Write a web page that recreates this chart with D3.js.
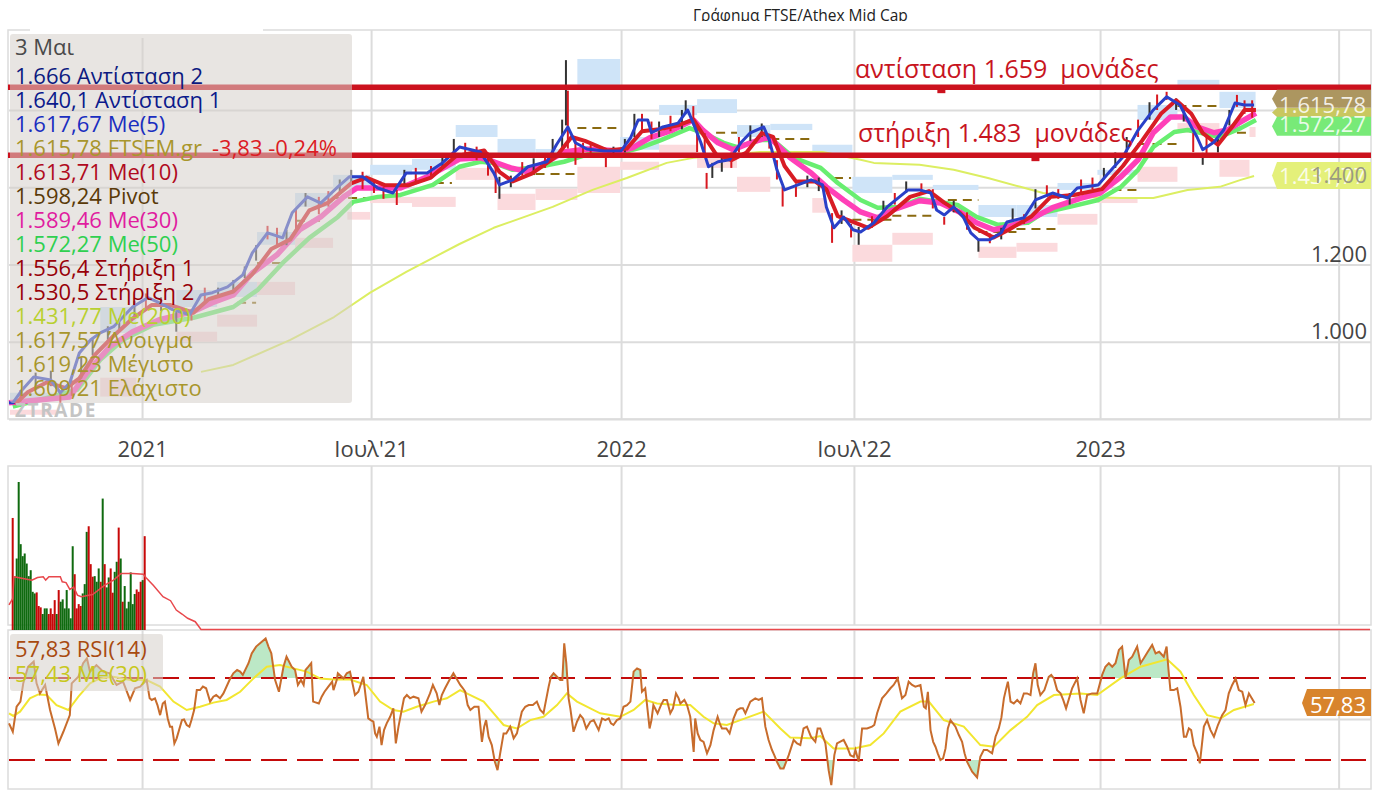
<!DOCTYPE html>
<head>
  <meta charset="utf-8">
  <script src="https://d3js.org/d3.v7.min.js"></script>
  <style>
    html, body { margin: 0; background: #fff; }
    svg { display: block; }
    text { font-family: "Open Sans", sans-serif; }
    .domain { display: none; }
    .grid line { stroke: #dcdcdc; stroke-width: 2; }
  </style>
</head>

<body>
  <svg width="1386" height="803"></svg>

  <script>
    // sessions are counted from the first trading day on the chart
    const monthTicks = [70, 190.5, 322, 444.5, 574, 699.5];
    const monthLabels = ['2021', "Ιουλ'21", '2022', "Ιουλ'22", '2023', ''];
    const priceLabels = [1000, 1200, 1400];
    const priceGrid = [800, 1000, 1200, 1400, 1600];

    const me5 = [[0,842],[2,842],[7,876],[13,909],[22,901],[27,868],[32,894],[37,971],[43,1005],[48,1023],[55,1039],[65,1090],[73,1114],[79,1101],[86,1083],[95,1070],[101,1121],[107,1127],[115,1142],[123,1173],[128,1230],[136,1282],[144,1269],[149,1334],[157,1375],[164,1359],[173,1401],[179,1427],[186,1427],[194,1398],[202,1385],[209,1437],[220,1437],[228,1463],[237,1504],[248,1491],[255,1437],[258,1406],[265,1419],[273,1453],[283,1466],[288,1510],[294,1556],[298,1515],[304,1499],[313,1494],[322,1494],[327,1528],[331,1574],[336,1574],[338,1541],[344,1556],[352,1566],[357,1600],[360,1566],[364,1515],[368,1453],[373,1466],[379,1471],[385,1515],[390,1541],[397,1556],[400,1522],[404,1445],[408,1393],[415,1406],[422,1419],[428,1406],[430,1349],[434,1295],[439,1323],[444,1290],[448,1284],[455,1308],[462,1349],[473,1393],[479,1393],[485,1385],[488,1341],[492,1328],[497,1349],[502,1323],[506,1282],[510,1264],[516,1264],[522,1282],[525,1310],[534,1321],[540,1367],[549,1385],[557,1372],[562,1398],[573,1406],[579,1440],[586,1478],[594,1548],[602,1600],[609,1634],[616,1613],[622,1556],[625,1530],[628,1497],[634,1517],[639,1548],[645,1618],[650,1613],[655,1613]];
    const me10 = [[3,838],[10,870],[20,895],[30,880],[37,905],[45,965],[55,1015],[65,1060],[75,1095],[85,1095],[97,1075],[105,1110],[118,1130],[128,1175],[138,1240],[148,1265],[158,1340],[168,1360],[180,1410],[188,1425],[198,1405],[210,1405],[222,1425],[235,1480],[250,1495],[258,1440],[265,1415],[275,1435],[288,1480],[296,1530],[303,1520],[315,1495],[325,1500],[333,1545],[342,1550],[352,1560],[360,1575],[366,1530],[372,1485],[380,1470],[388,1490],[396,1540],[402,1530],[408,1455],[414,1415],[424,1415],[430,1395],[436,1325],[444,1310],[452,1295],[462,1325],[474,1375],[484,1390],[492,1360],[500,1335],[508,1295],[518,1270],[526,1290],[538,1325],[548,1375],[560,1380],[575,1395],[586,1455],[596,1520],[606,1590],[614,1625],[622,1590],[628,1540],[636,1510],[644,1560],[650,1600],[656,1600]];
    const me30 = [[0,842],[32,857],[41,920],[53,987],[65,1026],[79,1057],[97,1078],[107,1101],[118,1121],[128,1178],[141,1225],[153,1290],[164,1323],[176,1375],[183,1398],[194,1398],[206,1398],[220,1427],[237,1473],[248,1476],[255,1466],[264,1450],[273,1440],[283,1466],[292,1491],[304,1499],[322,1494],[328,1502],[337,1528],[349,1548],[360,1574],[365,1548],[373,1515],[381,1497],[390,1515],[400,1530],[411,1476],[422,1437],[430,1401],[439,1367],[448,1336],[457,1321],[465,1341],[479,1365],[490,1359],[500,1336],[509,1308],[518,1290],[525,1297],[537,1316],[549,1347],[564,1372],[574,1385],[585,1427],[594,1471],[602,1541],[611,1582],[618,1582],[625,1556],[634,1541],[641,1548],[648,1569],[656,1592]];
    const me50 = [[2,832],[22,857],[36,876],[48,953],[60,1005],[76,1044],[97,1062],[118,1090],[131,1135],[144,1204],[158,1269],[173,1323],[181,1362],[194,1375],[206,1380],[223,1406],[237,1453],[248,1466],[255,1463],[265,1445],[279,1453],[292,1466],[307,1489],[322,1489],[332,1502],[343,1522],[358,1553],[365,1541],[376,1515],[383,1504],[395,1522],[402,1522],[413,1476],[427,1450],[436,1411],[448,1367],[457,1347],[469,1349],[479,1370],[499,1354],[509,1323],[520,1303],[536,1308],[544,1334],[558,1349],[573,1367],[585,1401],[594,1445],[602,1504],[613,1543],[620,1548],[637,1530],[648,1553],[656,1574]];
    const ma200 = [[101,922],[118,940],[148,1005],[171,1064],[190,1127],[209,1181],[237,1253],[255,1295],[286,1349],[307,1393],[325,1424],[346,1463],[360,1476],[395,1491],[428,1491],[448,1471],[455,1463],[479,1458],[497,1445],[515,1424],[532,1401],[544,1385],[564,1375],[585,1372],[602,1372],[620,1393],[637,1401],[648,1419],[655,1429]];

    // session, low, high, 1 = dark candle, 0 = red candle
    const wicks = [[6,845,875,0],[14,880,920,1],[22,885,925,1],[27,842,868,0],[33,860,900,0],[38,905,960,1],[44,965,1010,1],[52,1005,1040,1],[58,1025,1060,1],[66,1060,1105,1],[72,1085,1125,0],[80,1080,1115,1],[88,1026,1085,1],[96,1055,1085,0],[103,1105,1140,0],[110,1115,1140,1],[118,1130,1160,1],[124,1165,1195,1],[130,1210,1250,1],[136,1265,1300,0],[141,1250,1295,0],[146,1250,1290,1],[151,1290,1345,0],[156,1350,1385,1],[163,1330,1375,0],[168,1350,1390,0],[174,1385,1420,1],[180,1410,1445,1],[186,1395,1440,0],[192,1385,1420,0],[197,1370,1400,0],[204,1354,1393,0],[208,1405,1445,1],[214,1415,1450,0],[222,1425,1455,0],[228,1450,1480,1],[234,1480,1525,1],[240,1480,1515,0],[246,1470,1505,0],[252,1430,1490,0],[256,1385,1450,0],[258,1370,1427,1],[264,1400,1430,1],[270,1430,1465,0],[276,1440,1475,1],[282,1450,1485,0],[286,1480,1525,1],[291,1500,1575,1],[293,1560,1729,1],[294,1500,1650,0],[298,1458,1522,0],[302,1480,1515,0],[306,1480,1510,0],[314,1452,1478,0],[318,1480,1505,1],[324,1490,1525,1],[329,1530,1590,1],[333,1545,1590,0],[338,1525,1570,0],[342,1530,1570,1],[348,1545,1585,0],[354,1550,1600,1],[356,1590,1625,1],[360,1560,1610,0],[362,1491,1560,0],[366,1480,1540,0],[367,1396,1437,0],[370,1424,1463,1],[375,1440,1480,1],[380,1450,1490,0],[384,1490,1530,0],[390,1520,1560,1],[396,1530,1565,1],[400,1500,1535,0],[404,1420,1470,0],[407,1350,1402,0],[414,1375,1410,0],[420,1400,1430,1],[426,1390,1425,1],[433,1256,1333,0],[438,1305,1340,1],[443,1270,1305,0],[447,1251,1297,1],[454,1295,1325,0],[460,1335,1365,1],[466,1355,1385,0],[472,1385,1415,1],[480,1380,1410,0],[486,1345,1395,0],[492,1303,1323,0],[497,1335,1365,1],[504,1290,1335,0],[510,1233,1264,1],[516,1255,1280,0],[522,1265,1295,1],[528,1310,1345,1],[534,1305,1330,0],[540,1345,1395,1],[546,1375,1405,0],[552,1370,1395,0],[558,1355,1385,1],[564,1385,1420,0],[570,1395,1425,0],[576,1420,1450,1],[582,1450,1490,1],[588,1490,1530,1],[594,1530,1575,0],[600,1575,1620,1],[604,1600,1640,0],[609,1626,1647,0],[614,1600,1630,1],[618,1570,1610,1],[623,1491,1541,0],[628,1458,1489,1],[630,1480,1530,0],[636,1490,1525,1],[642,1560,1600,1],[646,1608,1639,0],[650,1590,1625,0],[654,1580,1625,0]];

    // monthly levels: session start, session end, low, high
    const resistanceZones = [[0.5,25,850,868],[48,67,1023,1090],[88,109.5,1090,1134],[109.5,130.5,1116,1155],[130.5,150.5,1251,1284],[150.5,170.5,1349,1385],[170.5,190,1398,1432],[190,212,1432,1458],[212,235,1445,1473],[235,257,1530,1561],[257,277,1489,1525],[277,299,1484,1499],[299,321.5,1665,1732],[321.5,342,1497,1530],[342,362,1587,1613],[362,383,1592,1628],[383,400.5,1530,1561],[400.5,422.6,1548,1564],[422.6,443.7,1489,1510],[443.7,464.7,1385,1427],[464.7,486,1419,1432],[486,510,1393,1406],[510,530,1323,1354],[530,551.6,1323,1354],[551.6,572.6,1393,1411],[572.6,593.7,1432,1445],[593.7,614.7,1574,1613],[614.7,636.8,1657,1678],[636.8,655.8,1605,1647]];
    const supportZones = [[0.5,25,811,824],[48,67,858,907],[88,109.5,1000,1026],[109.5,130.5,1039,1070],[130.5,150.5,1121,1155],[150.5,170.5,1243,1269],[178,190,1316,1336],[190,212,1359,1375],[212,235,1349,1375],[235,257,1419,1450],[257,277,1341,1383],[277,299,1367,1396],[299,321.5,1385,1453],[321.5,342,1445,1466],[342,362,1489,1510],[362,383,1450,1476],[383,400.5,1388,1427],[422.6,430,1334,1372],[443.7,464.7,1207,1251],[464.7,486,1251,1282],[510,530,1217,1246],[530,551.6,1233,1256],[551.6,572.6,1303,1331],[572.6,593.7,1359,1372],[593.7,614.7,1414,1453],[614.7,636.8,1541,1566],[636.8,652.6,1427,1471],[652.6,655.8,1530,1556]];
    const pivots = [[120,130,1101],[130.5,144,1204],[151,165,1313],[170.5,190,1372],[224,233,1411],[272,277,1434],[277,299,1434],[299,321,1553],[372,383,1541],[400.5,422.6,1525],[434,443,1424],[443.7,464.7,1316],[464.7,486,1326],[486,510,1367],[510,530,1284],[530,551,1292],[572.6,593.7,1393],[593.7,614.7,1512],[614.7,636.8,1610],[646,652,1541]];

    const trendLevels = [1659, 1483];
    const trendMarks = [[490.5, 1659], [540, 1483]];

    const legendValues = ['3 Μαι', '1.666 Αντίσταση 2', '1.640,1 Αντίσταση 1', '1.617,67 Me(5)', '1.615,78 FTSEM.gr', '1.613,71 Me(10)', '1.598,24 Pivot', '1.589,46 Me(30)', '1.572,27 Me(50)', '1.556,4 Στήριξη 1', '1.530,5 Στήριξη 2', '1.431,77 Me(200)', '1.617,57 Άνοιγμα', '1.619,23 Μέγιστο', '1.609,21 Ελάχιστο'];
    const legendColors = ['#4a4a4a', '#0c1a80', '#0c1a8c', '#1a2ec0', '#a8962c', '#b00a20', '#5a3a08', '#e01ca0', '#2fd050', '#980008', '#980008', '#b8d030', '#a8962c', '#a8962c', '#a8962c'];

    // volume in % of the tallest bar, oldest first
    const volume = [75.7,36.4,48.3,100,58,49.9,51.7,44.9,36.4,40.4,25.8,24.7,25.4,16.2,15.3,10.8,14.6,14.6,10.8,14.6,10.8,20.2,10.8,27,19.1,20.7,14.6,27,14.6,7.9,56.6,37.7,14.6,17.5,16.2,24.7,31,66.3,70.1,44.5,36,36.4,32.6,41.6,32.6,88.8,44.5,28.8,35.5,41.6,25.2,39.3,46.1,69.2,48.3,19.1,29.7,14.6,19.1,38.9,17.5,24.3,27.4,25.8,32.6,33.7,63.4];
    const volumeUp = '0111111111110001110000101111111000011100011101011001101011111100010110'.split('').map(Number);
    const volumeMa = [[0,16.9],[2,21.3],[2.6,36],[12,33.7],[15,35.5],[18,36],[19.3,33.7],[21,36],[27,36],[28,32.6],[30,32],[32,27.4],[34,29],[36,23.6],[38,22.5],[44,24],[50,30],[55,33.7],[59,38.2],[65,38.2],[70.7,37.7],[72,35.5],[76,30],[81,22.5],[85,19.8],[88,13.5],[91,10.8],[94,7.9],[98,5.6],[101,0.4],[716,0.4]];

    const rsiCoarse = [[0,47.9],[2,43.8],[4,56],[6,58.5],[7.5,67.4],[10,75.5],[13,78],[14.5,67.4],[16.3,62.5],[19,66.6],[21.6,54.4],[24.2,45.4],[26,38.1],[28.6,43.8],[32,51.9],[33,67.4],[36.5,70.6],[39,77.2],[41,79.6],[42.6,73.1],[46,76.3],[49.6,73.1],[53,72.3],[56.6,66.6],[60,68.2],[63.7,59.3],[66.3,65],[69,65.8],[72.4,69],[74,60.1],[76.8,60.1],[79.5,51.9],[82,58.5],[84.7,46.3],[87,38.1],[91,49.5],[93.5,47.1],[96,49.5],[98.8,64.1],[102,65.8],[105.8,58.5],[109,61.7],[112.8,62.5],[116,69],[120,73.9],[123,71.5],[126,77.2],[130,85.3],[135,89.3],[138,82],[140,69],[142,63.3],[146,80.4],[148.7,75.5],[152,66.6],[155,66.6],[156,73.9],[159,77.2],[160,58.5],[163,57.6],[166,63.3],[170,68.2],[170.7,64.1],[173,72.3],[176,69.8],[179.4,73.1],[182,61.7],[186.4,70.6],[189,50.3],[191.7,48.7],[193.5,41.4],[196,37.3],[198.7,47.9],[200.5,51.1],[202.2,55.2],[203.5,38.1],[206.6,54.4],[209.3,61.7],[212.8,60.9],[215.4,60.1],[217,53.6],[223,66.6],[226.4,56.8],[229.4,65],[233.8,72.3],[237.4,66.6],[240,63.3],[242.7,54.4],[247,56],[248.8,38.9],[251,49.5],[252.3,41.4],[254,37.3],[257,25.1],[260.2,43],[263.7,46.3],[265.5,40.6],[269.8,53.6],[273.4,56.8],[277.7,58.5],[281.2,52.8],[283.9,65.8],[286.5,72.3],[290,69],[292.1,86.9],[293.2,77.2],[294.4,60.1],[297,43.8],[300.5,51.9],[303.7,45.4],[307.6,49.5],[310.2,44.6],[312,50.3],[315.5,50.3],[318,47.1],[321.6,50.3],[323.3,56],[326.9,58.5],[328.6,73.1],[332.1,73.9],[333,63.3],[334.7,65],[337,45.4],[339,56.8],[341.2,52.8],[344.4,59.3],[347.9,52.8],[350.9,62.5],[353.2,57.6],[355.3,59.3],[358.4,51.1],[360.2,34],[361,50.3],[363.7,39.8],[367.2,33.3],[370.7,44.6],[372.8,51.1],[375.1,45.4],[379.1,43],[381.2,50.3],[384.7,55.2],[387.4,52.8],[392.6,60.1],[396.1,60.1],[397.9,46.3],[401.4,34.9],[404,29.2],[407.5,25.9],[410.2,32.4],[412.8,39.8],[416.3,37.3],[419.8,46.3],[424.2,38.9],[426.8,45.4],[429.5,38.1],[432.6,17.8],[435.6,38.1],[439.1,39.8],[442.6,32.4],[445.3,34.9],[447,29.2],[448.8,45.4],[454,46.3],[456.7,52.8],[459.3,60.1],[463.7,65],[467.5,69.8],[469.8,60.1],[473.3,68.2],[476.8,65.8],[479.5,66.6],[481.3,56],[483.4,63.3],[484.8,44.6],[487.4,36.5],[490,30],[492.7,35.7],[495.3,49.5],[497.9,46.3],[501.4,38.9],[504,29.2],[509.3,21.5],[511,31.6],[514.6,34.9],[517.2,33.3],[520.7,45.4],[523.4,60.1],[525.5,68.2],[526.9,58.5],[530.4,59.3],[533.9,62.5],[537.4,61.7],[540,77.2],[542.6,61.7],[547,70.6],[549.7,69.8],[553.2,62.5],[556.1,55.2],[561.9,69.8],[565.4,52.8],[567.2,61.7],[572.5,62.5],[575.1,71.5],[578.6,77.2],[582.1,77.2],[585.6,85.3],[587.4,69.8],[589.1,78.8],[593.5,85.3],[595.3,77.2],[601.4,86.1],[603.2,82],[607.5,80.4],[609,85.3],[611,64.1],[614.6,65],[618.1,41.4],[620.7,45.4],[623.3,37.3],[626.5,28.4],[630.3,49.5],[633.9,41.4],[638.2,51.9],[641.7,62.5],[645.3,69.8],[648.8,63.3],[650.5,56.8],[652.3,62.5],[655.3,57.83]];
    const rsiDetail = [[75.1,59.3],[78.1,56.8],[80.9,57.6],[83.5,50.3],[85.8,46.3],[88.2,40.6],[92.1,49.8],[94.9,46.3],[97.4,54.4],[100.5,64.1],[103.7,65],[107.5,60.9],[111,60.1],[118,72.3],[121.6,73.1],[127.7,82],[133,87.7],[136.5,85.3],[144.4,75.5],[150.5,73.9],[153.6,69],[157.5,75.5],[164.5,60.9],[168,65.8],[172.4,69],[177.7,72.3],[183.8,63.3],[190.3,49.5],[192.6,43],[194.9,46.3],[197.3,44.6],[204.9,46.3],[207.8,60.1],[211,60.1],[218.9,56.8],[221.5,62.5],[225,62.5],[227.7,61.7],[231.7,69],[238.8,65],[241.3,56.8],[244.8,56],[250,46.3],[255.6,29.2],[258.4,33.3],[261.6,43],[267.2,43],[271.6,56],[275.6,56.8],[279.5,54.4],[285.1,70.6],[288.3,70.6],[291.1,69],[295.3,55.2],[298.8,48.7],[302,50.3],[305.8,48.7],[313.7,49.5],[316.7,47.9],[319.8,49.5],[325.1,56.8],[330.4,74.7],[338,49.5],[343,56.8],[346.1,59.3],[349.3,55.2],[352.3,60.1],[356.7,56.8],[362.3,43],[365.4,38.9],[369,37.3],[374.2,47.1],[377.4,45.4],[383,54.4],[386.1,55.2],[390,58.5],[394.4,59.3],[399.6,39.8],[402.6,32.4],[405.8,25.9],[414.6,38.1],[418,45.4],[421.9,41.4],[425.4,45.4],[431.2,25.1],[434.2,32.4],[440.9,36.5],[444.4,31.6],[451.4,45.4],[455.2,47.1],[461.6,62.5],[465.4,66.6],[471.6,61.7],[475.1,66.6],[482.3,55.2],[486.2,38.9],[488.6,33.3],[491.4,30.8],[493.9,45.4],[499.7,42.2],[502.7,33.3],[506.7,24.3],[512.8,34.9],[519,41.4],[522.1,50.8],[524.4,64.1],[528.6,57.6],[532.1,57.6],[535.6,62.5],[538.8,72.3],[541.2,66.6],[544.7,64.1],[548.3,71.5],[551.4,64.1],[554.6,59.3],[559.3,65],[563.7,59.3],[569.8,62.5],[576.8,75.5],[580.4,75.5],[583.9,83.7],[590.9,80.4],[597,79.6],[599.1,82.8],[605.1,82.8],[610,73.9],[612.8,64.1],[616.3,56],[619.3,41.4],[621.9,44.6],[625.1,33.3],[628.6,46.3],[632.1,44.6],[636,47.1],[640,54.4],[643.5,66.6],[647,64.1]];
    const rsi = d3.sort(rsiCoarse.concat(rsiDetail), d => d[0]);
    const rsiMa = [[0,52.8],[2.3,51.5],[5.8,53.6],[11,60.1],[15.4,62],[19.8,61.7],[25,56.8],[31.2,54.4],[36.5,60.9],[42.6,67.4],[47.9,69.8],[54.9,70.6],[63.7,69],[72.4,69],[79.5,65.8],[86.5,58.5],[93.5,54.4],[100.5,56],[107.5,58],[114.5,59.3],[121.6,63.3],[128.6,69.8],[135.6,75.5],[142.6,76.3],[149.6,74.7],[156.6,73.1],[163.6,69.8],[170.7,69.3],[179.4,69.3],[188.2,66.6],[195.2,58.5],[202.2,54.4],[207.5,53.6],[214.5,56],[223.3,58.5],[230.3,60.1],[237.3,64.1],[242.7,61.7],[249.7,58.5],[255,52.8],[260.2,47.1],[267.2,45.4],[274.2,49.5],[281.2,51.1],[288.3,56.8],[293.5,62.5],[298.8,58.5],[311,52.8],[321.6,51.1],[328.6,54.4],[334.7,59.3],[340.9,57.6],[351.4,56.8],[358.4,56.8],[365.4,51.1],[370.7,47.9],[377.7,47.1],[384.7,49.5],[397,53.6],[405.8,45.4],[411,41],[421.6,40.6],[426.8,41.7],[433.8,35.7],[444.4,35.7],[453.1,37.3],[460.2,43],[468.9,53.6],[479.5,58.5],[483.9,58.5],[491.8,49.5],[497,47.9],[502.3,46.3],[511,37.3],[518.1,36.5],[526.9,44.6],[535.6,51.1],[540.9,56.8],[549.7,61.7],[563.7,62.5],[572.5,61.7],[584.7,69.8],[595.3,75.5],[609.3,79.1],[616.3,73.1],[623.3,61.7],[630.3,51.9],[637.4,50.3],[644.4,54.4],[654.9,57.3]];
    const rsiBands = [70, 30];
    const rsiGrid = [50];

    const svg = d3.select('svg');
    const xLeft = 9, xRight = 1371;
    const fontSize = 22;

    const x = d3.scaleLinear().domain([0, 716]).range([9, 1370]);
    const y = d3.scaleLinear().domain([800, 1807]).range([419, 30]);
    const yVol = d3.scaleLinear().domain([0, 100]).range([630, 482]);
    const yRsi = d3.scaleLinear().domain([15.9, 93.4]).range([789, 630]);
    const barX = d3.scaleBand().domain(d3.range(volume.length)).range([11.7, 145.7]).paddingInner(0);

    const locale = d3.formatLocale({ decimal: ',', thousands: '.', grouping: [3], currency: ['', ''] });
    const fmtPrice = locale.format(',.0f');

    // panel frames and grids
    const panels = [[30, 419], [466, 625], [630, 789]];
    panels.forEach(([top, bottom]) => {
      const grid = svg.append('g').attr('class', 'grid');
      grid.append('g')
        .attr('transform', `translate(0,${bottom})`)
        .call(d3.axisBottom(x).tickValues(monthTicks).tickSize(top - bottom).tickFormat(''));
      grid.append('rect')
        .attr('x', xLeft - 1).attr('y', top)
        .attr('width', xRight - xLeft + 1).attr('height', bottom - top)
        .attr('fill', 'none').attr('stroke', '#dcdcdc').attr('stroke-width', 1.5);
    });

    svg.append('g').attr('class', 'grid')
      .attr('transform', `translate(${xRight},0)`)
      .call(d3.axisLeft(y).tickValues(priceGrid).tickSize(xRight - xLeft).tickFormat(''));
    svg.append('g').attr('class', 'grid')
      .attr('transform', `translate(${xRight},0)`)
      .call(d3.axisLeft(yRsi).tickValues(rsiGrid).tickSize(xRight - xLeft).tickFormat(''));

    // time labels
    const timeAxis = svg.append('g')
      .attr('transform', 'translate(0,441)')
      .call(d3.axisBottom(x).tickValues(monthTicks).tickSize(0).tickPadding(0)
        .tickFormat((d, i) => monthLabels[i]));
    timeAxis.selectAll('text').attr('fill', '#444').attr('font-size', fontSize);

    // monthly resistance and support zones, pivot dashes
    const main = svg.append('g');
    const zone = (rows, color) => main.append('g').selectAll('rect')
      .data(rows).enter().append('rect')
      .attr('x', d => x(d[0]))
      .attr('width', d => x(d[1]) - x(d[0]))
      .attr('y', d => y(d[3]))
      .attr('height', d => y(d[2]) - y(d[3]))
      .attr('fill', color);
    zone(resistanceZones, '#cfe4f8');
    zone(supportZones, '#fbdadd');

    main.append('g').selectAll('line')
      .data(pivots).enter().append('line')
      .attr('x1', d => x(d[0])).attr('x2', d => x(d[1]))
      .attr('y1', d => y(d[2])).attr('y2', d => y(d[2]))
      .attr('stroke', '#8a6a10').attr('stroke-width', 2).attr('stroke-dasharray', '9,6');

    // moving averages
    const priceLine = d3.line().x(d => x(d[0])).y(d => y(d[1]));
    const drawLine = (rows, color, width) => main.append('path')
      .attr('d', priceLine(rows))
      .attr('fill', 'none').attr('stroke', color).attr('stroke-width', width)
      .attr('stroke-linejoin', 'round');
    drawLine(ma200, '#dcee62', 2);
    drawLine(me50, '#68ee70', 4.5);
    drawLine(me30, '#ff40b8', 5.5);

    main.append('g').selectAll('line')
      .data(wicks).enter().append('line')
      .attr('x1', d => x(d[0])).attr('x2', d => x(d[0]))
      .attr('y1', d => y(d[1])).attr('y2', d => y(d[2]))
      .attr('stroke', d => d[3] ? '#333' : '#d81820')
      .attr('stroke-width', 2);

    drawLine(me10, '#d81c24', 4);
    drawLine(me5, '#2a40c8', 3);

    // trend levels drawn by the analyst
    svg.append('g').selectAll('line')
      .data(trendLevels).enter().append('line')
      .attr('x1', xLeft - 1).attr('x2', xRight)
      .attr('y1', d => y(d)).attr('y2', d => y(d))
      .attr('stroke', '#cc121e').attr('stroke-width', 5.5);
    svg.append('g').selectAll('rect')
      .data(trendMarks).enter().append('rect')
      .attr('x', d => x(d[0]) - 4).attr('y', d => y(d[1]) + 2)
      .attr('width', 8).attr('height', 4)
      .attr('fill', '#cc121e');

    const note = svg.append('g').attr('fill', '#c8141e').attr('font-size', 25);
    note.append('text').attr('x', 855).attr('y', 78).attr('xml:space', 'preserve').text('αντίσταση 1.659  μονάδες');
    note.append('text').attr('x', 858).attr('y', 142).attr('xml:space', 'preserve').text('στήριξη 1.483  μονάδες');

    // price axis and value tags
    const priceAxis = svg.append('g')
      .attr('transform', 'translate(1367,-10.5)')
      .call(d3.axisLeft(y).tickValues(priceLabels).tickSize(0).tickPadding(0).tickFormat(fmtPrice));
    priceAxis.selectAll('text').attr('fill', '#444').attr('font-size', fontSize);
    priceAxis.selectAll('.tick').filter(d => d === 1400).attr('opacity', 0);

    const tag = (top, bottom, color) => {
      const mid = (top + bottom) / 2, left = 1272;
      svg.append('path')
        .attr('d', `M${left + 5},${top}H${xRight}V${bottom}H${left + 5}L${left},${mid}Z`)
        .attr('fill', color);
    };
    tag(y(1615.78) - 14, y(1615.78) + 4, '#ac9660');
    tag(y(1589.46) - 6, y(1589.46) + 3, '#c9c75f');
    tag(y(1572.27) - 4, y(1572.27) + 15, '#78ea78');
    tag(y(1431.77) - 13, y(1431.77) + 14, '#e4f07a');
    const tagText = svg.append('g')
      .attr('text-anchor', 'end').attr('fill', '#fff').attr('fill-opacity', 0.85).attr('font-size', fontSize);
    tagText.append('text').attr('x', 1366).attr('y', y(1615.78) + 9).text('1.615,78');
    tagText.append('text').attr('x', 1366).attr('y', y(1572.27) + 11).text('1.572,27');
    tagText.append('text').attr('x', 1366).attr('y', y(1431.77) + 9).text('1.431,77');
    svg.append('text').attr('x', 1367).attr('y', y(1400) - 4)
      .attr('text-anchor', 'end').attr('fill', '#9a9a80').attr('font-size', fontSize).text(fmtPrice(1400));

    // legend panel
    svg.append('rect').attr('x', 30).attr('y', 27).attr('width', 233).attr('height', 11).attr('fill', '#fff');
    svg.append('text').attr('x', 15).attr('y', 417)
      .attr('fill', '#c4c4c4').attr('font-size', 19).attr('font-weight', 700)
      .attr('letter-spacing', 1.6).text('ZTRADE');
    svg.append('rect')
      .attr('x', 10).attr('y', 34).attr('width', 342).attr('height', 369).attr('rx', 3)
      .attr('fill', '#d6d0cb').attr('fill-opacity', 0.55);

    const legend = svg.append('g').attr('font-size', fontSize);
    legend.selectAll('text')
      .data(legendValues).enter().append('text')
      .attr('x', 15)
      .attr('y', (d, i) => i === 0 ? 55 : 60 + i * 24)
      .attr('fill', (d, i) => legendColors[i])
      .text(d => d);
    legend.append('text').attr('x', 212).attr('y', 156).attr('fill', '#dc1c24').text('-3,83 -0,24%');

    // volume
    svg.append('g').selectAll('rect')
      .data(volume).enter().append('rect')
      .attr('x', (d, i) => barX(i))
      .attr('width', barX.bandwidth())
      .attr('y', d => yVol(d))
      .attr('height', d => yVol(0) - yVol(d))
      .attr('fill', (d, i) => volumeUp[i] ? '#0f6a0f' : '#c80808');
    svg.append('path')
      .attr('d', d3.line().x(d => x(d[0])).y(d => yVol(d[1]))(volumeMa))
      .attr('fill', 'none').attr('stroke', '#e8484c').attr('stroke-width', 1.5);

    // rsi: shaded beyond the bands, bands, average and rsi
    const rsiLine = d3.line().x(d => x(d[0])).y(d => yRsi(d[1]));
    const defs = svg.append('defs');
    defs.append('clipPath').attr('id', 'over').append('rect')
      .attr('x', xLeft).attr('width', xRight - xLeft)
      .attr('y', yRsi(93.4)).attr('height', yRsi(rsiBands[0]) - yRsi(93.4));
    defs.append('clipPath').attr('id', 'under').append('rect')
      .attr('x', xLeft).attr('width', xRight - xLeft)
      .attr('y', yRsi(rsiBands[1])).attr('height', yRsi(15.9) - yRsi(rsiBands[1]));
    [['over', rsiBands[0]], ['under', rsiBands[1]]].forEach(([id, level]) => {
      svg.append('path')
        .attr('clip-path', `url(#${id})`)
        .attr('d', d3.area().x(d => x(d[0])).y0(yRsi(level)).y1(d => yRsi(d[1]))(rsi))
        .attr('fill', '#bce8c6');
    });
    svg.append('g').selectAll('line')
      .data(rsiBands).enter().append('line')
      .attr('x1', xLeft).attr('x2', 1366)
      .attr('y1', d => yRsi(d)).attr('y2', d => yRsi(d))
      .attr('stroke', '#c40a0a').attr('stroke-width', 2).attr('stroke-dasharray', '26,10');
    svg.append('path').attr('d', rsiLine(rsiMa))
      .attr('fill', 'none').attr('stroke', '#f2e630').attr('stroke-width', 2);
    svg.append('path').attr('d', rsiLine(rsi))
      .attr('fill', 'none').attr('stroke', '#c86c2c').attr('stroke-width', 2);

    svg.append('rect')
      .attr('x', 10).attr('y', 634).attr('width', 153).attr('height', 57).attr('rx', 3)
      .attr('fill', '#d6d0cb').attr('fill-opacity', 0.55);
    svg.append('text').attr('x', 15).attr('y', 657).attr('fill', '#a84a10').attr('font-size', fontSize).text('57,83 RSI(14)');
    svg.append('text').attr('x', 15).attr('y', 682).attr('fill', '#c8c820').attr('font-size', fontSize).text('57,43 Me(30)');

    svg.append('path')
      .attr('d', `M1307,${yRsi(57.83) - 14}H${xRight}V${yRsi(57.83) + 13}H1307L1302,${yRsi(57.83)}Z`)
      .attr('fill', '#d8842c');
    svg.append('text').attr('x', 1366).attr('y', yRsi(57.83) + 10)
      .attr('text-anchor', 'end').attr('fill', '#fff').attr('font-size', fontSize).text('57,83');

    // chart title, cut off by its box as in the source
    defs.append('clipPath').attr('id', 'titleBox').append('rect')
      .attr('x', 680).attr('y', 0).attr('width', 230).attr('height', 21);
    svg.append('text').attr('clip-path', 'url(#titleBox)')
      .attr('x', 693).attr('y', 21).attr('fill', '#222').attr('font-size', 15.5)
      .text('Γράφημα FTSE/Athex Mid Cap');
  </script>
</body>
